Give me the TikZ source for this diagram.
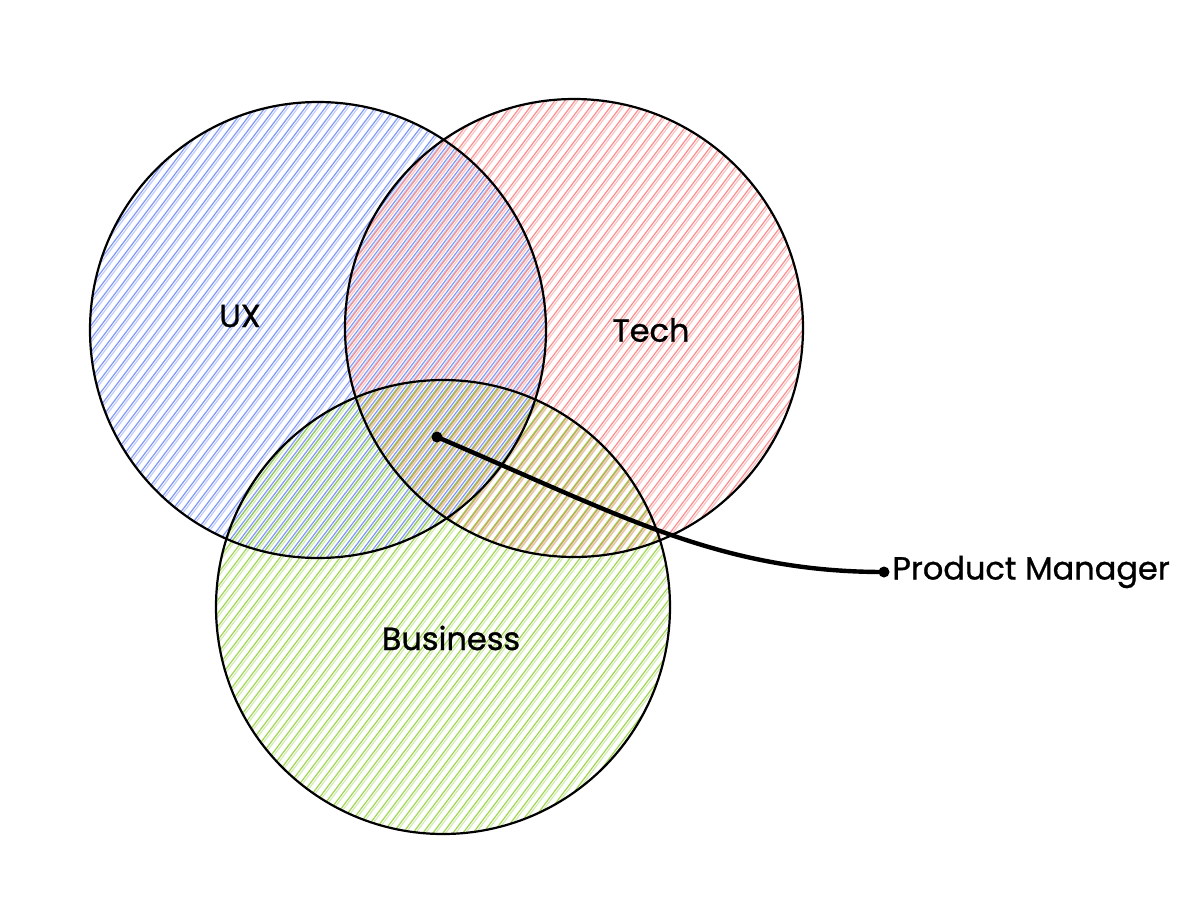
\documentclass[tikz,border=0pt]{standalone}
\usepackage{fontspec}
\setmainfont{Poppins}[FakeBold=0.9]
\definecolor{uxblue}{RGB}{76,110,245}
\definecolor{techred}{RGB}{250,82,82}
\definecolor{busgreen}{RGB}{130,201,30}
\newcommand\vennhatch[4]{%
  \begin{scope}
    \clip (#1,#2) circle[radius=#3];
    \begin{scope}[shift={(#1,#2)},rotate=53]
      \foreach \k in {-240,-232,...,240}{
        \draw[#4] (-250,\k) -- (250,\k);
        \draw[#4,opacity=0.35] (-250,\k+2.2) -- (250,\k+2.2);}
    \end{scope}
  \end{scope}}
\begin{document}
\begin{tikzpicture}[x=0.5pt,y=-0.5pt,
  hatchux/.style={uxblue,line width=0.6pt,opacity=0.7},
  hatchtech/.style={techred,line width=0.6pt,opacity=0.65},
  hatchbus/.style={busgreen,line width=0.6pt,opacity=0.75},
  outline/.style={black,line width=1.1pt},
  label/.style={font=\fontsize{16}{19}\selectfont,text=black},
  conn/.style={black,line width=2.2pt,line cap=round}]
\useasboundingbox (0,0) rectangle (1200,906);
\fill[white] (0,0) rectangle (1200,906);
% hachure fills
\vennhatch{318}{330}{228}{hatchux}
\vennhatch{574}{328}{229}{hatchtech}
\vennhatch{443}{607}{227}{hatchbus}
% outlines
\draw[outline] (318,330) circle[radius=228];
\draw[outline] (574,328) circle[radius=229];
\draw[outline] (443,607) circle[radius=227];
% labels
\node[label] (ux) at (240,316) {UX};
\node[label] (tech) at (651,330) {Tech};
\node[label] (bus) at (451,638) {Business};
\node[label,anchor=west,inner sep=2pt] (pm) at (888,572) {Product Manager};
% connector
\coordinate (pmdot) at (437,437);
\coordinate (pmend) at (884,572);
\draw[conn] (pmdot) .. controls (620,515) and (720,572) .. (pmend);
\fill (pmdot) circle[radius=5.5];
\fill (pmend) circle[radius=5.5];
\end{tikzpicture}
\end{document}
